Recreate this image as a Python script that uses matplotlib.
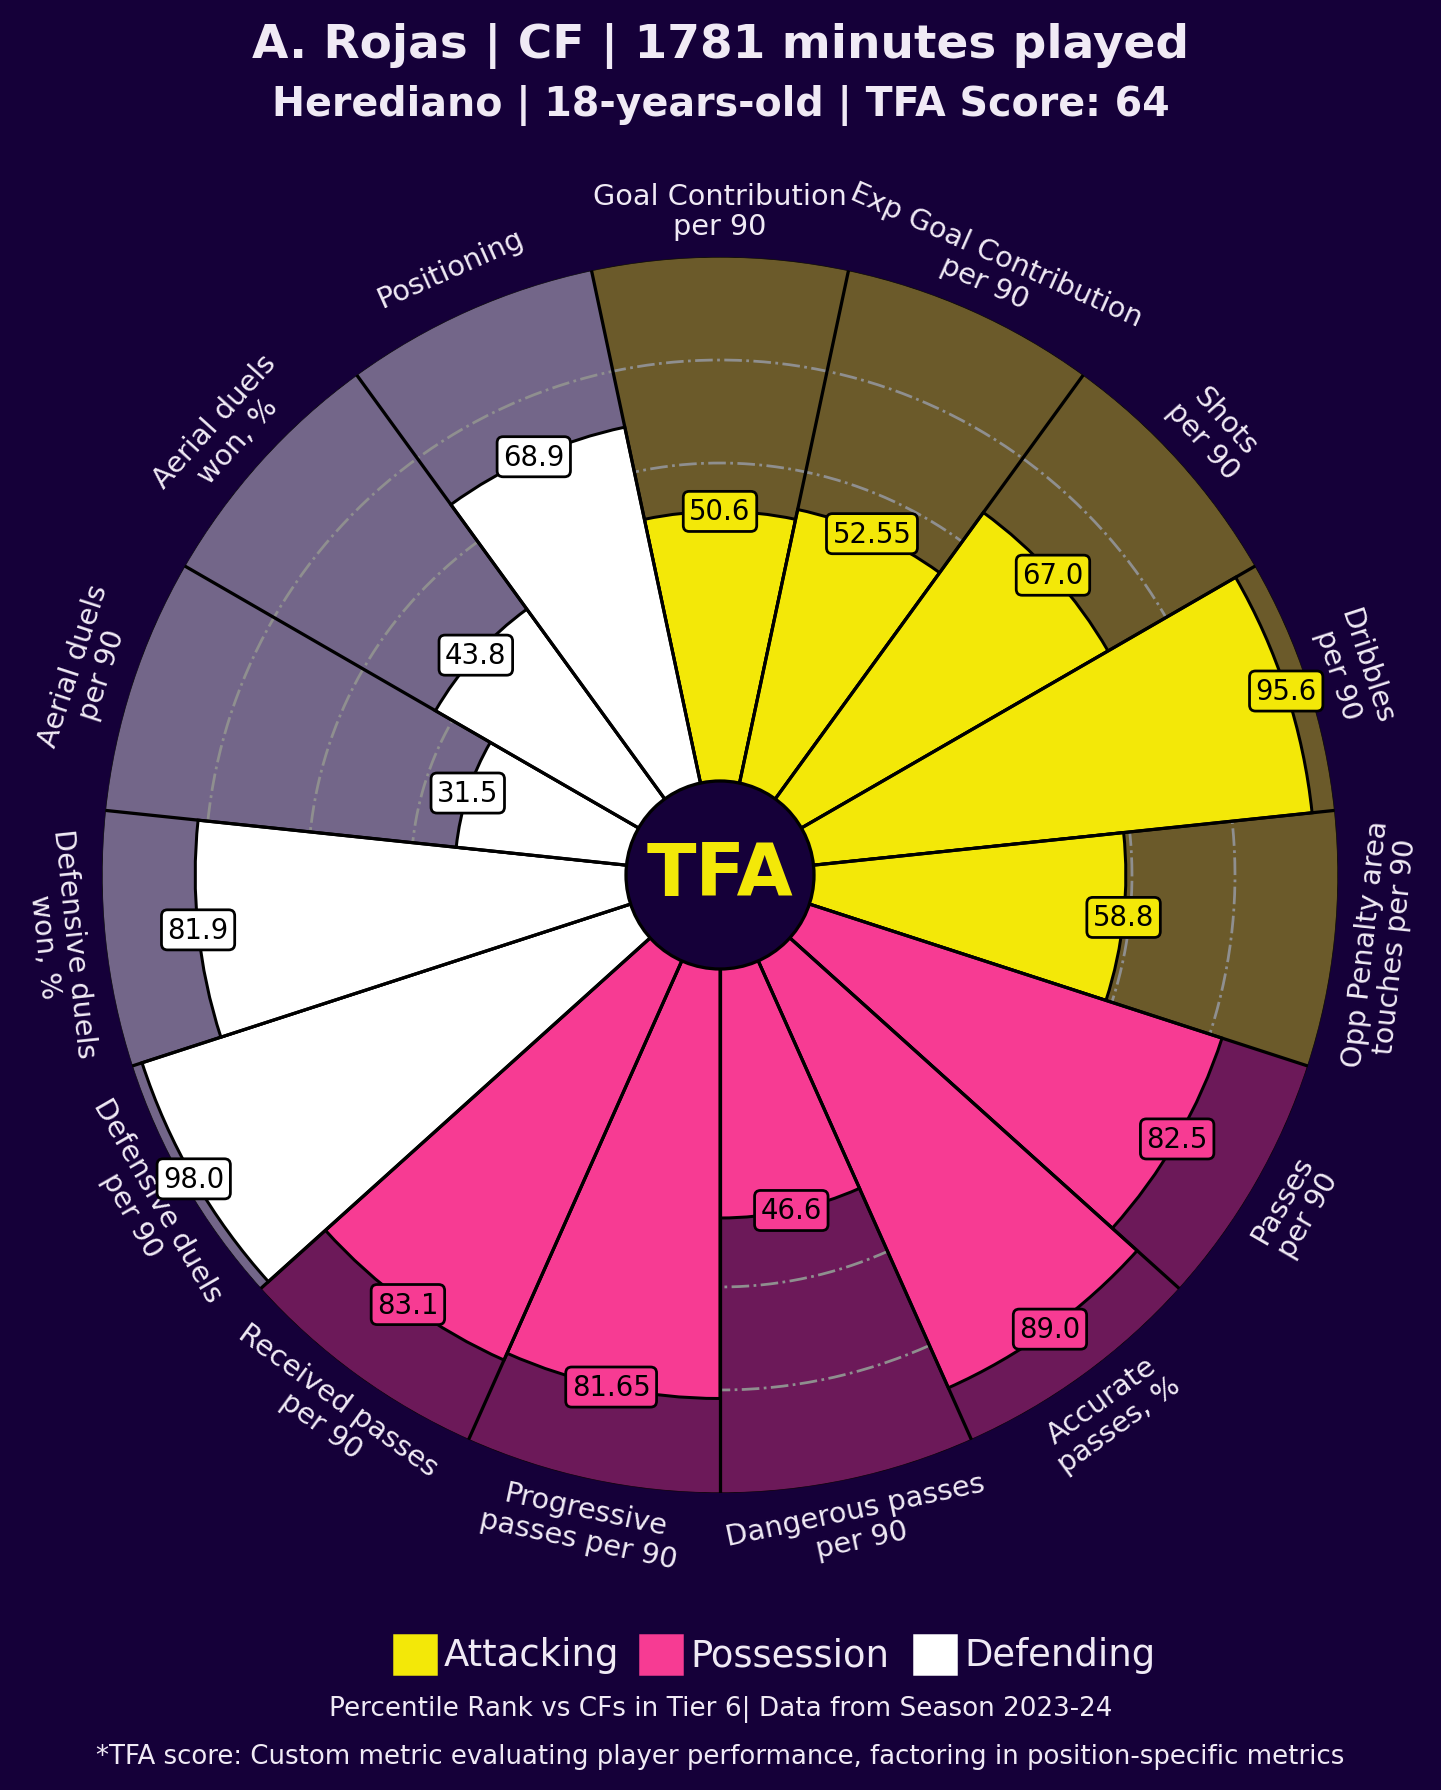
#!/usr/bin/env python3
"""Pizza chart of percentile ranks for A. Rojas (CF, Herediano)."""

import matplotlib
matplotlib.use("Agg")
import matplotlib.pyplot as plt
from matplotlib.patches import Circle, Rectangle
import numpy as np

# ---- data ----
params = [
    "Goal Contribution\nper 90",
    "Exp Goal Contribution\nper 90",
    "Shots\nper 90",
    "Dribbles\nper 90",
    "Opp Penalty area\ntouches per 90",
    "Passes\nper 90",
    "Accurate\npasses, %",
    "Dangerous passes\nper 90",
    "Progressive\npasses per 90",
    "Received passes\nper 90",
    "Defensive duels\nper 90",
    "Defensive duels\nwon, %",
    "Aerial duels\nper 90",
    "Aerial duels\nwon, %",
    "Positioning",
]
values = [50.6, 52.55, 67.0, 95.6, 58.8, 82.5, 89.0, 46.6,
          81.65, 83.1, 98.0, 81.9, 31.5, 43.8, 68.9]
groups = ["Attacking"] * 5 + ["Possession"] * 5 + ["Defending"] * 5
group_names = ["Attacking", "Possession", "Defending"]

title = "A. Rojas | CF | 1781 minutes played"
subtitle = "Herediano | 18-years-old | TFA Score: 64"
footer1 = "Percentile Rank vs CFs in Tier 6| Data from Season 2023-24"
footer2 = ("*TFA score: Custom metric evaluating player performance, "
           "factoring in position-specific metrics")

# ---- style ----
BG = "#150039"
TXT = "#f0eaf5"
fg_col = {"Attacking": "#f3e808", "Possession": "#f73b93", "Defending": "#ffffff"}
bg_col = {"Attacking": "#6b5a2a", "Possession": "#6c1959", "Defending": "#736689"}
plt.rcParams["font.family"] = ["DejaVu Sans"]

W, H, DPI = 1441, 1791, 180
fig = plt.figure(figsize=(W / DPI, H / DPI), dpi=DPI, facecolor=BG)

cx, cy, R = 720, 876, 618
ax = fig.add_axes([(cx - R) / W, 1 - (cy + R) / H, 2 * R / W, 2 * R / H],
                  projection="polar")
ax.set_facecolor("none")
ax.set_ylim(-20, 100)
ax.set_axis_off()

n = len(values)
step = 2 * np.pi / n
theta = np.pi / 2 - np.arange(n) * step

# background slices
ax.bar(theta, 120, width=step, bottom=-20,
       color=[bg_col[g] for g in groups], edgecolor="black", linewidth=0.5, zorder=1)

# dash-dot grid rings
ring_t = np.linspace(0, 2 * np.pi, 500)
for r in [20, 40, 60, 80]:
    ax.plot(ring_t, np.full_like(ring_t, r), color="#8f8f8f", lw=1.1,
            ls="-.", zorder=2)

# value slices
ax.bar(theta, np.array(values) + 20, width=step, bottom=-20,
       color=[fg_col[g] for g in groups], edgecolor="black", linewidth=1.2, zorder=3)

# straight separating lines
for b in theta + step / 2:
    ax.plot([b, b], [-20, 100], color="black", lw=1.3, zorder=4)

# value boxes
for t, v, g in zip(theta, values, groups):
    ax.text(t, v, str(v), ha="center", va="center", fontsize=11, color="black",
            zorder=6,
            bbox=dict(boxstyle="round,pad=0.22", fc=fg_col[g], ec="black", lw=1.1))

# parameter labels
for t, p in zip(theta, params):
    a = np.degrees(t)
    a = (a + 180) % 360 - 180
    rot = a - 90 if 0 < a < 180 else a + 90
    ax.text(t, 109, p, ha="center", va="center", rotation=rot,
            rotation_mode="anchor", fontsize=11.5, color=TXT,
            multialignment="center", linespacing=1.1)

# centre circle with logo
ax.add_patch(Circle((0.5, 0.5), 94 / (2 * R), transform=ax.transAxes,
                    facecolor=BG, edgecolor="black", lw=1.3, zorder=7))
ax.text(0.5, 0.5, "TFA", transform=ax.transAxes, ha="center", va="center",
        fontsize=29, fontweight="heavy", color=fg_col["Attacking"], zorder=8)

# titles
fig.text(0.5, 1 - 46 / H, title, ha="center", va="center", fontsize=18.8,
         fontweight="bold", color=TXT)
fig.text(0.5, 1 - 105 / H, subtitle, ha="center", va="center", fontsize=15.8,
         fontweight="bold", color=TXT)

# legend
leg_x = [394, 640, 914]
for x0, g in zip(leg_x, group_names):
    fig.patches.append(Rectangle((x0 / W, 1 - 1675 / H), 42 / W, 39 / H,
                                 transform=fig.transFigure, color=fg_col[g]))
    fig.text((x0 + 50) / W, 1 - 1656 / H, g, ha="left", va="center",
             fontsize=14.8, color=TXT)

fig.text(0.5, 1 - 1710 / H, footer1, ha="center", va="center", fontsize=10.5,
         color=TXT)
fig.text(0.5, 1 - 1757 / H, footer2, ha="center", va="center", fontsize=10.4,
         color=TXT)

fig.savefig("out.png", dpi=DPI, facecolor=BG)
